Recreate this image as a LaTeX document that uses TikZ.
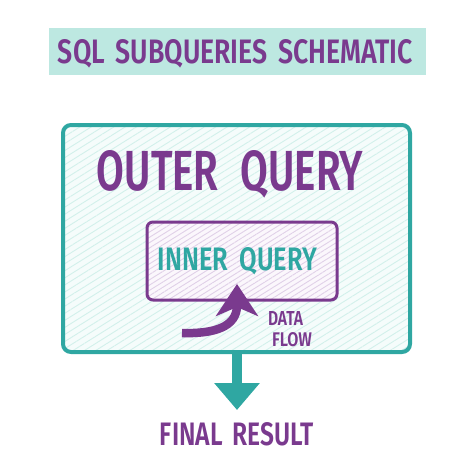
\documentclass[tikz,border=0pt]{standalone}
\usepackage{fontspec}
\setmainfont{Fira Sans}[BoldFont={Fira Sans SemiBold}]
\usetikzlibrary{arrows.meta,patterns.meta}
\definecolor{qpurple}{HTML}{7A3A8E}
\definecolor{qteal}{HTML}{2FA7A2}
\definecolor{qband}{HTML}{BDE8E1}
\definecolor{qouterfill}{HTML}{F5FCFB}
\definecolor{qouterhatch}{HTML}{D2F0EB}
\definecolor{qinnerfill}{HTML}{FBF7FC}
\definecolor{qinnerhatch}{HTML}{E0D0E8}
\newcommand{\fittext}[3]{\resizebox{#1}{#2}{\bfseries #3}}
\newcommand{\gap}[1]{\hspace{#1em}}
\tikzset{
  lbl/.style={inner sep=0pt, anchor=base},
  outerbox/.style={draw=qteal, line width=4pt, rounded corners=8pt,
    preaction={fill=qouterfill},
    pattern={Lines[angle=32,distance=6pt,line width=0.9pt]}, pattern color=qouterhatch,
    minimum width=347pt, minimum height=227pt, inner sep=0pt},
  innerbox/.style={draw=qpurple, line width=3pt, rounded corners=6pt,
    preaction={fill=qinnerfill},
    pattern={Lines[angle=32,distance=4.5pt,line width=0.9pt]}, pattern color=qinnerhatch,
    minimum width=190pt, minimum height=78pt, inner sep=0pt},
  bandbox/.style={fill=qband, minimum width=377pt, minimum height=47pt, inner sep=0pt},
  downarrow/.style={qteal, line width=10pt, -{Triangle[width=44pt,length=27pt]}},
  flowarrow/.style={qpurple, line width=8.5pt, -{Stealth[width=42pt,length=32pt,inset=9pt]}},
}
\begin{document}
\begin{tikzpicture}[x=1pt,y=-1pt]
\useasboundingbox (0,0) rectangle (474,474);
% title
\node[bandbox] (band) at (237.5,51.5) {};
\node[lbl, text=qpurple] (title) at (235.5,63) {\fittext{355pt}{24pt}{SQL\gap{0.4}SUBQUERIES\gap{0.4}SCHEMATIC}};
% outer query
\node[outerbox] (outer) at (236.5,238.5) {};
\node[lbl, text=qpurple] (outerlbl) at (230,190) {\fittext{266pt}{40pt}{OUTER\gap{0.55}QUERY}};
% inner query
\node[innerbox] (inner) at (242,261) {};
\node[lbl, text=qteal] (innerlbl) at (237.5,270) {\fittext{159pt}{23pt}{INNER\gap{0.45}QUERY}};
% data flow arrow
\coordinate (tail) at (182,333);
\coordinate (ctip) at (237,284);
\draw[flowarrow] (tail) .. controls (214,334) and (237,327) .. (ctip);
\node[lbl, text=qpurple] (data) at (285.5,325) {\fittext{35pt}{14pt}{DATA}};
\node[lbl, text=qpurple] (flow) at (292,346) {\fittext{40pt}{14pt}{FLOW}};
% result arrow
\coordinate (dtip) at (237,410);
\draw[downarrow] (outer.south -| dtip) -- (dtip);
\node[lbl, text=qpurple] (result) at (237,445) {\fittext{154pt}{23pt}{FINAL\gap{0.4}RESULT}};
\end{tikzpicture}
\end{document}
